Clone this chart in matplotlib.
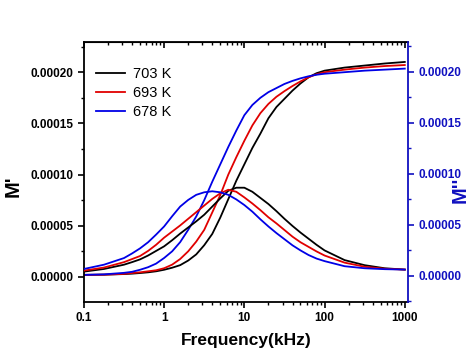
import matplotlib
matplotlib.use("Agg")
import matplotlib.pyplot as plt
from matplotlib.ticker import MultipleLocator, FormatStrFormatter, LogLocator, NullFormatter

plt.rcParams['font.family'] = ['Liberation Sans', 'DejaVu Sans']

# frequency grid (kHz)
freq = [0.1, 0.178, 0.316, 0.398, 0.501, 0.631, 0.794, 1.0, 1.259, 1.585,
        1.995, 2.512, 3.162, 3.981, 5.012, 6.31, 7.943, 10, 12.59, 15.85,
        19.95, 25.12, 31.62, 39.81, 50.12, 63.1, 79.43, 100, 177.8, 316.2,
        562.3, 1000]

# M' (real part), units of 1e-5
m1_703 = [0.2, 0.22, 0.28, 0.32, 0.38, 0.45, 0.55, 0.7, 0.9, 1.15,
          1.6, 2.2, 3.1, 4.2, 5.8, 7.6, 9.4, 11.0, 12.6, 14.0,
          15.5, 16.6, 17.4, 18.2, 18.9, 19.5, 19.9, 20.15, 20.45, 20.65,
          20.85, 21.0]
m1_693 = [0.2, 0.22, 0.3, 0.38, 0.45, 0.55, 0.65, 0.85, 1.2, 1.75,
          2.5, 3.45, 4.6, 6.3, 8.0, 10.0, 11.7, 13.3, 14.8, 16.0,
          16.9, 17.6, 18.15, 18.65, 19.1, 19.5, 19.8, 20.0, 20.25, 20.45,
          20.6, 20.7]
m1_678 = [0.2, 0.25, 0.4, 0.5, 0.7, 0.95, 1.3, 1.85, 2.5, 3.4,
          4.6, 5.9, 7.5, 9.3, 11.0, 12.7, 14.3, 15.8, 16.8, 17.5,
          18.05, 18.45, 18.85, 19.15, 19.4, 19.6, 19.75, 19.85, 20.0, 20.15,
          20.25, 20.35]

# M'' (imaginary part), units of 1e-5
m2_703 = [0.42, 0.68, 1.1, 1.35, 1.62, 2.0, 2.45, 2.9, 3.5, 4.15,
          4.75, 5.35, 6.0, 6.8, 7.6, 8.35, 8.65, 8.65, 8.25, 7.65,
          7.05, 6.35, 5.6, 4.9, 4.25, 3.65, 3.05, 2.5, 1.55, 1.05,
          0.75, 0.62]
m2_693 = [0.52, 0.82, 1.35, 1.65, 1.95, 2.45, 3.05, 3.75, 4.35, 4.95,
          5.6, 6.25, 6.9, 7.55, 8.1, 8.45, 8.25, 7.7, 7.1, 6.45,
          5.75, 5.15, 4.5, 3.85, 3.3, 2.85, 2.4, 2.0, 1.3, 0.9,
          0.7, 0.62]
m2_678 = [0.68, 1.1, 1.75, 2.2, 2.7, 3.3, 4.05, 4.85, 5.85, 6.8,
          7.45, 7.95, 8.2, 8.3, 8.2, 7.95, 7.5, 6.95, 6.3, 5.55,
          4.85, 4.2, 3.6, 3.0, 2.5, 2.05, 1.7, 1.45, 0.95, 0.75,
          0.66, 0.62]

labels = ["703 K", "693 K", "678 K"]
colors = ["black", "#e00000", "#0000e6"]
axblue = "#1010c0"

fig = plt.figure(figsize=(4.74, 3.62), dpi=100)
ax = fig.add_axes([0.177, 0.166, 0.684, 0.718])
ax2 = ax.twinx()

for y, lab, c in zip([m1_703, m1_693, m1_678], labels, colors):
    ax.plot(freq, [v * 1e-5 for v in y], color=c, lw=1.3, label=lab)
for y, c in zip([m2_703, m2_693, m2_678], colors):
    ax2.plot(freq, [v * 1e-5 for v in y], color=c, lw=1.3)

ax.set_xscale('log')
ax.set_xlim(0.1, 1100)
ax.set_ylim(-0.0000244, 0.0002295)
ax2.set_ylim(-0.0000255, 0.0002294)

ax.set_xticks([0.1, 1, 10, 100, 1000])
ax.set_xticklabels(["0.1", "1", "10", "100", "1000"])
ax.xaxis.set_minor_locator(LogLocator(base=10, subs=range(2, 10)))
ax.xaxis.set_minor_formatter(NullFormatter())

for a in (ax, ax2):
    a.yaxis.set_major_locator(MultipleLocator(0.00005))
    a.yaxis.set_minor_locator(MultipleLocator(0.000025))
    a.yaxis.set_major_formatter(FormatStrFormatter('%.5f'))

ax.tick_params(which='major', direction='out', length=4, width=1.2, labelsize=8.5)
ax.tick_params(which='minor', direction='out', length=2.5, width=1.0)
for t in ax.get_xticklabels() + ax.get_yticklabels():
    t.set_fontweight('bold')

ax2.tick_params(axis='y', which='major', direction='out', length=4, width=1.2,
                colors=axblue, labelsize=8.5)
ax2.tick_params(axis='y', which='minor', direction='out', length=2.5, width=1.0,
                colors=axblue)
for t in ax2.get_yticklabels():
    t.set_fontweight('bold')

top = ax.secondary_xaxis('top')
top.set_xticks([0.1, 1, 10, 100, 1000])
top.xaxis.set_minor_locator(LogLocator(base=10, subs=range(2, 10)))
top.tick_params(which='major', direction='in', length=4, width=1.2, labeltop=False)
top.tick_params(which='minor', direction='in', length=2.5, width=1.0)
top.spines['top'].set_linewidth(1.3)

for s in ['left', 'bottom']:
    ax.spines[s].set_linewidth(1.3)
ax2.spines['right'].set_color(axblue)
ax2.spines['right'].set_linewidth(1.3)
ax2.spines['left'].set_visible(False)
ax2.spines['top'].set_visible(False)
ax2.spines['bottom'].set_visible(False)
ax.spines['right'].set_visible(False)

ax.set_xlabel("Frequency(kHz)", fontsize=12.5, fontweight='bold', labelpad=6)
ax.set_ylabel("M'", fontsize=14.5, fontweight='bold')
ax.yaxis.set_label_coords(-0.19, 0.446)
ax2.set_ylabel("M''", fontsize=14.5, fontweight='bold', color=axblue)
ax2.yaxis.set_label_coords(1.13, 0.43)

ax.legend(loc='upper left', bbox_to_anchor=(0.0, 0.948), frameon=False,
          fontsize=10.5, handlelength=2.0, handletextpad=0.55,
          labelspacing=0.35, borderaxespad=0.4)

fig.savefig("out.png", dpi=100)
